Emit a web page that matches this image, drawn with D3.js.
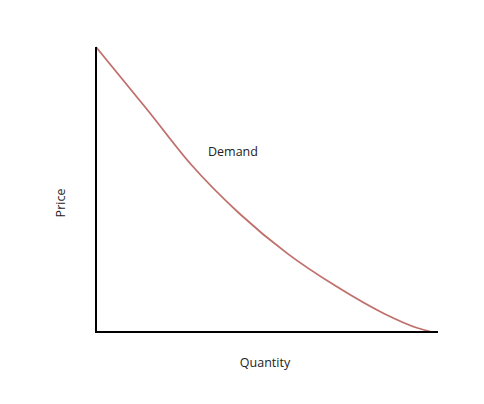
<!DOCTYPE html>
<html><head><meta charset="utf-8">
<script src="https://cdn.jsdelivr.net/npm/d3@7"></script>
<style>body{margin:0;background:#fff}text{font-family:"Open Sans",sans-serif;font-size:12.5px;fill:#222}</style>
</head><body><svg width="484" height="404"></svg>
<script>
var quantity = [0, 15, 28, 42, 56, 70, 84, 94, 98.2];
var price = [100, 78, 58.5, 41.5, 27.5, 16.2, 6.6, 1.4, 0];

var svg = d3.select("svg");
var x = d3.scaleLinear().domain([0, 100]).range([96, 438]);
var y = d3.scaleLinear().domain([0, 100]).range([332, 47]);

var line = d3.line()
  .x(function(d, i) { return x(quantity[i]); })
  .y(function(d) { return y(d); })
  .curve(d3.curveMonotoneX);

svg.append("path").datum(price)
  .attr("d", line).attr("fill", "none")
  .attr("stroke", "#c0706c").attr("stroke-width", 1.8);

// axes (plain lines, no ticks)
svg.append("line").attr("x1", x(0)).attr("x2", x(0)).attr("y1", y(100)).attr("y2", y(0))
  .attr("stroke", "#000").attr("stroke-width", 2);
svg.append("line").attr("x1", x(0) - 1).attr("x2", x(100)).attr("y1", y(0)).attr("y2", y(0))
  .attr("stroke", "#000").attr("stroke-width", 2);

svg.append("text").attr("x", 208).attr("y", 156).text("Demand");
svg.append("text").attr("x", 265).attr("y", 367).attr("text-anchor", "middle").text("Quantity");
svg.append("text").attr("transform", "translate(65,203) rotate(-90)")
  .attr("text-anchor", "middle").text("Price");
</script></body></html>
